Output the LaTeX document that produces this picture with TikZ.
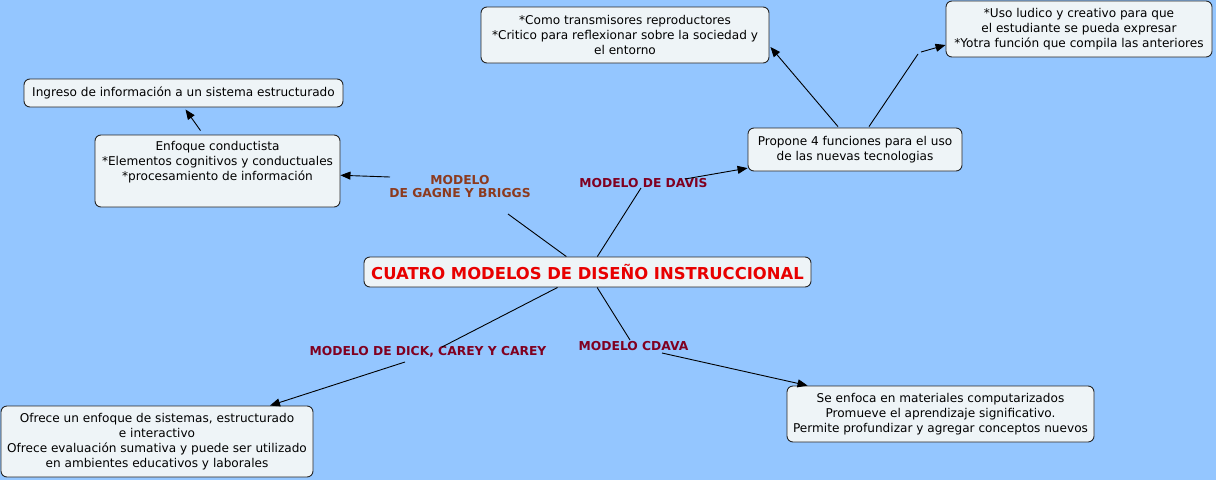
\documentclass[tikz,border=0pt]{standalone}
\usepackage{fontspec}
\setmainfont{DejaVu Sans}
\usetikzlibrary{arrows.meta,calc}
\definecolor{bg}{RGB}{148,198,255}
\definecolor{boxfill}{RGB}{238,244,247}
\definecolor{lblred}{RGB}{128,0,32}
\definecolor{lblbrown}{RGB}{140,58,30}
\definecolor{titlered}{RGB}{232,0,0}
\begin{document}
\begin{tikzpicture}[x=1pt,y=-1pt,
  concept/.style={draw=black!85, fill=boxfill, rounded corners=6pt, line width=0.9pt, align=center, inner sep=0pt, font=\fontsize{12.1}{15}\selectfont},
  lbl/.style={font=\bfseries\fontsize{12.3}{13}\selectfont, text=lblred, align=center, inner sep=1pt},
  link/.style={line width=0.9pt, draw=black},
  arr/.style={link, -{Triangle[length=10pt,width=8pt]}}]
\fill[bg] (0,0) rectangle (1216,480);
\useasboundingbox (0,0) rectangle (1216,480);

\node[concept, minimum width=319pt, minimum height=28pt] (ing) at (183.5,93) {Ingreso de información a un sistema estructurado};
\node[concept, minimum width=245pt, minimum height=72pt] (enf) at (217.5,171) {Enfoque conductista\\{}*Elementos cognitivos y conductuales\\{}*procesamiento de información\\\strut};
\node[concept, minimum width=288pt, minimum height=56pt] (como) at (625,35) {{}*Como transmisores reproductores\\{}*Critico para reflexionar sobre la sociedad y\\el entorno};
\node[concept, minimum width=266pt, minimum height=56pt] (uso) at (1079,29) {{}*Uso ludico y creativo para que\\el estudiante se pueda expresar\\{}*Yotra función que compila las anteriores};
\node[concept, minimum width=214pt, minimum height=43pt] (prop) at (855,149.5) {Propone 4 funciones para el uso\\de las nuevas tecnologias};
\node[concept, minimum width=447pt, minimum height=30pt, font=\bfseries\fontsize{16.4}{18}\selectfont, text=titlered] (title) at (587.5,272) {CUATRO MODELOS DE DISEÑO INSTRUCCIONAL};
\node[concept, minimum width=312pt, minimum height=71pt] (dick) at (157,441.5) {Ofrece un enfoque de sistemas, estructurado\\e interactivo\\Ofrece evaluación sumativa y puede ser utilizado\\en ambientes educativos y laborales};
\node[concept, minimum width=307pt, minimum height=56pt] (cdava) at (940.5,414) {Se enfoca en materiales computarizados\\Promueve el aprendizaje significativo.\\Permite profundizar y agregar conceptos nuevos};

\node[lbl, text=lblbrown] (gagne) at (460,186.5) {MODELO\\DE GAGNE Y BRIGGS};
\node[lbl] (davis) at (643.5,183) {MODELO DE DAVIS};
\node[lbl] (dickl) at (428,352) {MODELO DE DICK, CAREY Y CAREY};
\node[lbl] (cdaval) at (633.5,346) {MODELO CDAVA};

\coordinate (gA) at (508,214); \coordinate (gB) at (390,177);
\coordinate (dA) at (641,188); \coordinate (dB) at (685,179);
\coordinate (kA) at (442,347); \coordinate (kB) at (405,362);
\coordinate (cA) at (630,340); \coordinate (cB) at (662,353);
\coordinate (pU) at (918,54); \coordinate (pV) at (921,52);

\draw[link] (title) -- (gA);
\draw[arr] (gB) -- (enf);
\draw[link] (title) -- (dA);
\draw[arr] (dB) -- (prop);
\draw[link] (title) -- (kA);
\draw[arr] (kB) -- ($(dick.north)+(113,0)$);
\draw[link] (title) -- (cA);
\draw[arr] (cB) -- ($(cdava.north west)+(21,0)$);
\draw[arr] ($(prop.north)+(-17,-1)$) -- ($(como.east)+(1,12)$);
\draw[link] ($(prop.north)+(14,-1)$) -- (pU);
\draw[arr] (pV) -- ($(uso.west)+(0,16)$);
\draw[arr] ($(enf.north)+(-17,-4)$) -- ($(ing.south)+(2,2)$);
\end{tikzpicture}
\end{document}
